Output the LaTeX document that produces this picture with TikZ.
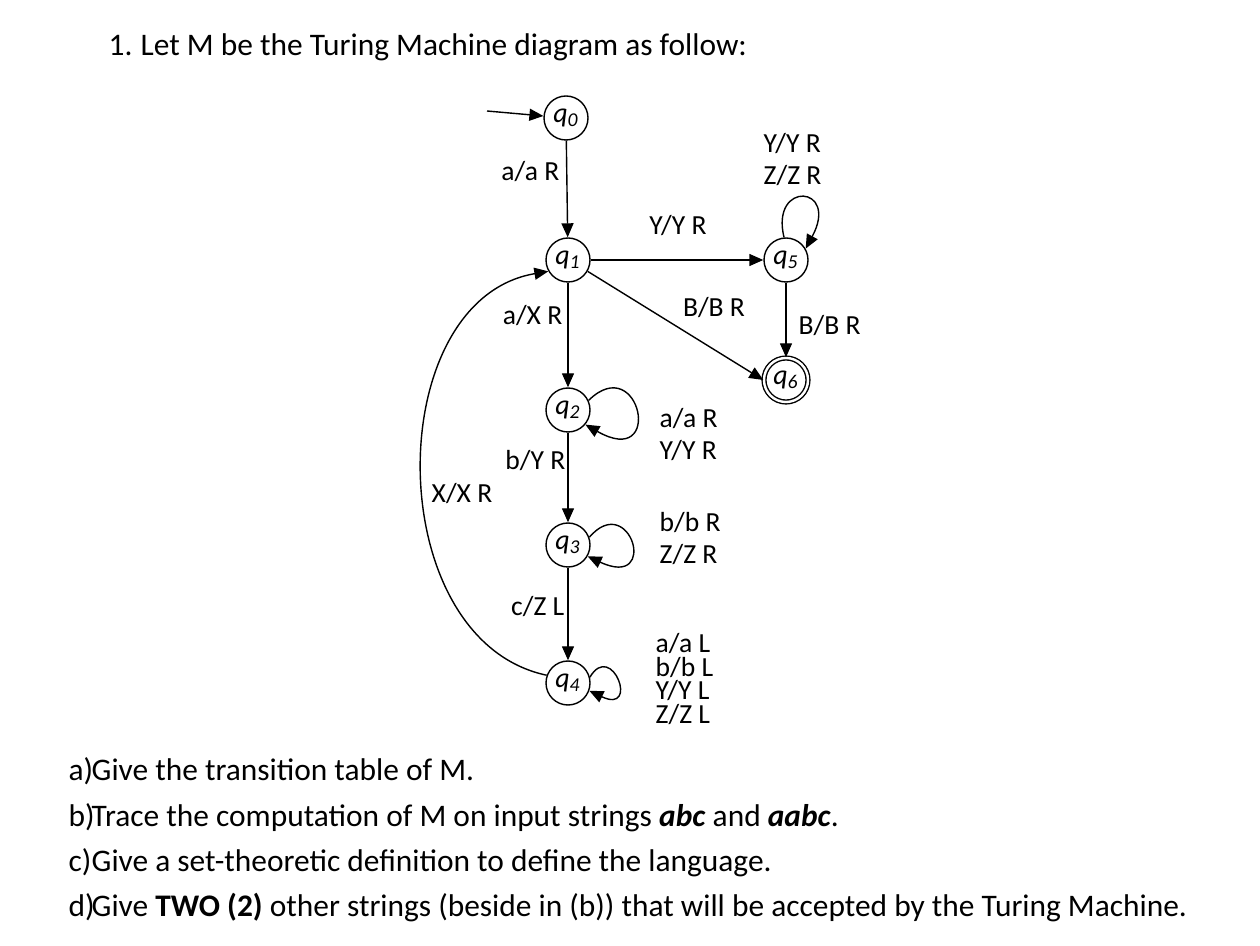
\documentclass[tikz,border=0pt]{standalone}
\usepackage{fontspec}
\setmainfont{Carlito}
\usetikzlibrary{arrows.meta}
\begin{document}
\begin{tikzpicture}[x=0.5pt,y=-0.5pt,
  st/.style={circle,draw,minimum size=22pt,inner sep=0pt,font=\fontsize{14}{14}\selectfont},
  lb/.style={font=\fontsize{13.8}{13}\selectfont,inner sep=0pt,align=left},
  tx/.style={font=\fontsize{15.7}{16}\selectfont,anchor=base west,inner sep=0pt},
  ar/.style={-{Triangle[length=7pt,width=6pt]}},
  every path/.style={line width=0.7pt}]
\useasboundingbox (0,0) rectangle (1260,946);
\newcommand{\qq}[1]{\textit{q\textsubscript{#1}}}
\node[tx] (h1) at (108,56) {1.};
\node[tx] (h2) at (140,56) {Let M be the Turing Machine diagram as follow:};
\node[st] (q0) at (566,118) {\qq0};
\node[st] (q1) at (568,260) {\qq1};
\node[st] (q2) at (568,410) {\qq2};
\node[st] (q3) at (568,545) {\qq3};
\node[st] (q4) at (568,683) {\qq4};
\node[st] (q5) at (786,260) {\qq5};
\node[st,double,double distance=1.2pt] (q6) at (786,380) {\qq6};
\coordinate (s) at (487,111);
\draw[ar] (s) -- (q0);
\draw[ar] (q0) -- (q1);
\draw[ar] (q1) -- (q2);
\draw[ar] (q2) -- (q3);
\draw[ar] (q3) -- (q4);
\draw[ar] (q1) -- (q5);
\draw[ar] (q5) -- (q6);
\draw[ar] (q1.-30) -- (q6.west);
\draw[ar] (q2.25) .. controls (640,350) and (665,470) .. (q2.-40);
\draw[ar] (q3.20) .. controls (630,490) and (660,590) .. (q3.-30);
\draw[ar] (q4.15) .. controls (612,640) and (640,715) .. (q4.-20);
\draw[ar] (q5.95) .. controls (770,180) and (840,185) .. (q5.30);
\draw[ar] (q4.160) .. controls (380,640) and (380,300) .. (q1.-150);
\node[lb,anchor=east] (l1) at (560,172) {a/a R};
\node[lb] (l2) at (678,226) {Y/Y R};
\node[lb,anchor=west] (l3) at (763,160) {Y/Y R\\[3pt]Z/Z R};
\node[lb] (l4) at (714,308) {B/B R};
\node[lb,anchor=west] (l5) at (798,326) {B/B R};
\node[lb,anchor=east] (l6) at (563,316) {a/X R};
\node[lb,anchor=west] (l7) at (659,435) {a/a R\\[3pt]Y/Y R};
\node[lb,anchor=east] (l8) at (566,461) {b/Y R};
\node[lb] (l9) at (462,494) {X/X R};
\node[lb,anchor=west] (l10) at (659,539) {b/b R\\[3pt]Z/Z R};
\node[lb,anchor=east] (l11) at (565,607) {c/Z L};
\node[lb,anchor=west,font=\fontsize{13.8}{11.8}\selectfont] (l12) at (655,679) {a/a L\\b/b L\\Y/Y L\\Z/Z L};
\node[tx] (a1) at (68,781) {a)};
\node[tx] (a2) at (91,781) {Give the transition table of M.};
\node[tx] (b1) at (68,827) {b)};
\node[tx] (b2) at (91,827) {Trace the computation of M on input strings \textbf{\textit{abc}} and \textbf{\textit{aabc}}.};
\node[tx] (c1) at (68,871) {c)};
\node[tx] (c2) at (91,871) {Give a set-theoretic definition to define the language.};
\node[tx] (d1) at (68,916) {d)};
\node[tx] (d2) at (91,916) {Give \textbf{TWO (2)} other strings (beside in (b)) that will be accepted by the Turing Machine.};
\end{tikzpicture}
\end{document}
